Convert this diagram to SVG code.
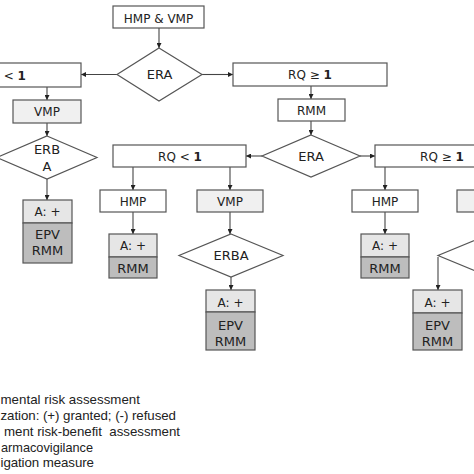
<svg xmlns="http://www.w3.org/2000/svg" width="474" height="474" viewBox="0 0 474 474">
<defs>
<marker id="ah" viewBox="0 0 10 10" refX="10" refY="5" markerWidth="5" markerHeight="5" orient="auto" markerUnits="userSpaceOnUse">
<path d="M0,0 L10,5 L0,10 z" fill="#222"/>
</marker>
<style>
.b{fill:#fff;stroke:#555;stroke-width:1.2}
.g{fill:#f0f0f0;stroke:#555;stroke-width:1.2}
.ra{fill:#e6e6e6;stroke:#555;stroke-width:1.2}
.rb{fill:#bdbdbd;stroke:#555;stroke-width:1.2}
.d{fill:#fff;stroke:#555;stroke-width:1.2}
.t{font-family:"DejaVu Sans",Verdana,sans-serif;font-size:12px;fill:#222;text-anchor:middle}
.t13{font-family:"DejaVu Sans",Verdana,sans-serif;font-size:13px;fill:#222;text-anchor:middle}
.lg{font-family:"Liberation Sans",Arial,sans-serif;font-size:13.3px;fill:#222}
.c{stroke:#444;stroke-width:1.1;fill:none;marker-end:url(#ah)}
</style>
</defs>

<g id="connectors">
<line class="c" x1="159" y1="28" x2="159" y2="48"/>
<line class="c" x1="117" y1="74.5" x2="81" y2="74.5"/>
<line class="c" x1="202" y1="74.5" x2="233" y2="74.5"/>
<line class="c" x1="47" y1="87" x2="47" y2="100"/>
<line class="c" x1="47" y1="123" x2="47" y2="136"/>
<line class="c" x1="47" y1="179" x2="47" y2="200"/>
<line class="c" x1="311" y1="86" x2="311" y2="99"/>
<line class="c" x1="311" y1="121" x2="311" y2="135"/>
<line class="c" x1="262" y1="156" x2="246" y2="156"/>
<line class="c" x1="360" y1="156" x2="375" y2="156"/>
<line class="c" x1="133" y1="167" x2="133" y2="190"/>
<line class="c" x1="230" y1="167" x2="230" y2="190"/>
<line class="c" x1="133" y1="212" x2="133" y2="234"/>
<line class="c" x1="230" y1="212" x2="230" y2="234"/>
<line class="c" x1="231" y1="277" x2="231" y2="290"/>
<line class="c" x1="385" y1="167" x2="385" y2="190"/>
<line class="c" x1="385" y1="212" x2="385" y2="234"/>
<line class="c" x1="438" y1="257" x2="438" y2="290"/>
</g>

<g id="n-hmpvmp">
<rect class="b" x="113" y="6" width="91" height="22"/>
<text class="t" x="158.5" y="22.5">HMP &amp; VMP</text>
</g>

<g id="n-era1">
<polygon class="d" points="159,48 202,74.5 159,101 117,74.5"/>
<text class="t13" x="159.5" y="79">ERA</text>
</g>

<g id="n-rqlt1-top">
<rect class="b" x="-73" y="63" width="154" height="24"/>
<text class="t" x="4" y="79.5">RQ &lt; <tspan font-weight="bold">1</tspan></text>
</g>

<g id="n-rqge1-top">
<rect class="b" x="233" y="63" width="154" height="23"/>
<text class="t" x="310" y="79">RQ ≥ <tspan font-weight="bold">1</tspan></text>
</g>

<g id="n-vmp-left">
<rect class="g" x="13" y="100" width="68" height="23"/>
<text class="t" x="47" y="116">VMP</text>
</g>

<g id="n-erba-left">
<polygon class="d" points="47,136 97,157.5 47,179 -3,157.5"/>
<text class="t13" x="47" y="154">ERB</text>
<text class="t13" x="47" y="171">A</text>
</g>

<g id="n-res-left">
<rect class="ra" x="23" y="200" width="49" height="23"/>
<rect class="rb" x="23" y="223" width="49" height="40"/>
<text class="t" x="47.5" y="216">A: +</text>
<text class="t13" x="47.5" y="239">EPV</text>
<text class="t13" x="47.5" y="255">RMM</text>
</g>

<g id="n-rmm">
<rect class="b" x="278" y="99" width="67" height="22"/>
<text class="t" x="311.5" y="114.5">RMM</text>
</g>

<g id="n-era2">
<polygon class="d" points="311,135 360,156 311,177 262,156"/>
<text class="t13" x="311" y="160.5">ERA</text>
</g>

<g id="n-rqlt1-mid">
<rect class="b" x="113" y="145" width="133" height="22"/>
<text class="t" x="180" y="160.5">RQ &lt; <tspan font-weight="bold">1</tspan></text>
</g>

<g id="n-rqge1-right">
<rect class="b" x="375" y="145" width="134" height="22"/>
<text class="t" x="442" y="160.5">RQ ≥ <tspan font-weight="bold">1</tspan></text>
</g>

<g id="n-hmp-mid">
<rect class="b" x="100" y="190" width="66" height="22"/>
<text class="t" x="133" y="205.5">HMP</text>
</g>

<g id="n-vmp-mid">
<rect class="g" x="197" y="190" width="66" height="22"/>
<text class="t" x="230" y="205.5">VMP</text>
</g>

<g id="n-res-hmp-mid">
<rect class="ra" x="109" y="234" width="48" height="23"/>
<rect class="rb" x="109" y="257" width="48" height="21"/>
<text class="t" x="133" y="250">A: +</text>
<text class="t13" x="133" y="272.5">RMM</text>
</g>

<g id="n-erba-mid">
<polygon class="d" points="231,234 283,255.5 231,277 179,255.5"/>
<text class="t13" x="231" y="260">ERBA</text>
</g>

<g id="n-res-erba-mid">
<rect class="ra" x="206" y="290" width="49" height="22"/>
<rect class="rb" x="206" y="312" width="49" height="38"/>
<text class="t" x="230.5" y="306.5">A: +</text>
<text class="t13" x="230.5" y="329.5">EPV</text>
<text class="t13" x="230.5" y="346">RMM</text>
</g>

<g id="n-hmp-right">
<rect class="b" x="352" y="190" width="66" height="22"/>
<text class="t" x="385" y="205.5">HMP</text>
</g>

<g id="n-res-hmp-right">
<rect class="ra" x="361" y="234" width="48" height="23"/>
<rect class="rb" x="361" y="257" width="48" height="21"/>
<text class="t" x="385" y="250">A: +</text>
<text class="t13" x="385" y="272.5">RMM</text>
</g>

<g id="n-vmp-right">
<rect class="g" x="457" y="190" width="66" height="22"/>
</g>

<g id="n-erba-right">
<polygon class="d" points="490,234 542,255.5 490,277 438,255.5"/>
</g>

<g id="n-res-erba-right">
<rect class="ra" x="413" y="290" width="49" height="23"/>
<rect class="rb" x="413" y="313" width="49" height="37"/>
<text class="t" x="437.5" y="307">A: +</text>
<text class="t13" x="437.5" y="330">EPV</text>
<text class="t13" x="437.5" y="346">RMM</text>
</g>

<g id="legend">
<text class="lg" x="0.5" y="403.5" textLength="139.5">mental risk assessment</text>
<text class="lg" x="0.5" y="419.5" textLength="175.5">zation: (+) granted; (-) refused</text>
<text class="lg" x="4" y="435.5" textLength="176" xml:space="preserve">ment risk-benefit  assessment</text>
<text class="lg" x="1" y="451.5" textLength="92" lengthAdjust="spacingAndGlyphs">armacovigilance</text>
<text class="lg" x="0.5" y="467" textLength="93.5">igation measure</text>
</g>
</svg>
